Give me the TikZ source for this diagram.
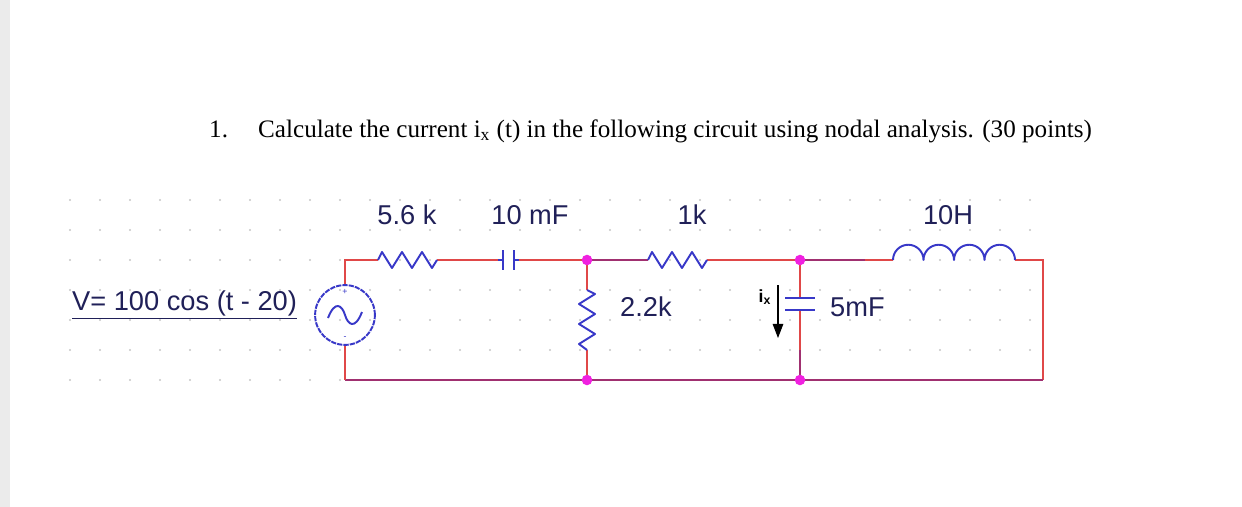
\documentclass[tikz,border=0pt]{standalone}
\usepackage{fontspec}
\setmainfont{Liberation Serif}
\newfontfamily\arial{Liberation Sans}
\usetikzlibrary{arrows.meta}
\definecolor{wr}{HTML}{E04848}
\definecolor{wp}{HTML}{A03070}
\definecolor{cb}{HTML}{3838C8}
\definecolor{lb}{HTML}{202058}
\definecolor{nd}{HTML}{F020E0}
\tikzset{wire/.style={wr,line width=1.1pt},pwire/.style={wp,line width=1.1pt},
comp/.style={cb,line width=1.1pt,line join=round},
lab/.style={lb,font=\arial\fontsize{15.5}{18}\selectfont},
dotn/.style={circle,fill=nd,inner sep=0pt,minimum size=6pt}}
\begin{document}
\begin{tikzpicture}[x=0.02cm,y=-0.02cm]
\useasboundingbox (0,0) rectangle (1242,507);
\fill[white] (0,0) rectangle (1242,507);
\fill[black!8] (0,0) rectangle (10,507);
\foreach \x in {70,100,...,1040} \foreach \y in {200,230,...,380} \fill[black!22] (\x,\y) circle (0.6pt);
\node[anchor=west,font=\fontsize{14.3}{17}\selectfont] (title) at (203,131) {1.\hspace{1.2em}Calculate the current i\textsubscript{x} (t) in the following circuit using nodal analysis. (30 points)};
% coordinates
\coordinate (tl) at (345,260); \coordinate (bl) at (345,380);
\coordinate (n1) at (587,260); \coordinate (n2) at (800,260);
\coordinate (b1) at (587,380); \coordinate (b2) at (800,380);
\coordinate (tr) at (1043,260); \coordinate (br) at (1043,380);
% wires
\draw[wire] (345,285) -- (tl) -- (378,260);
\draw[wire] (437,260) -- (503,260);
\draw[wire] (514,260) -- (n1);
\draw[pwire] (n1) -- (648,260);
\draw[wire] (707,260) -- (n2);
\draw[pwire] (n2) -- (865,260);
\draw[wire] (865,260) -- (893,260);
\draw[wire] (1015,260) -- (tr) -- (br);
\draw[pwire] (bl) -- (b1) -- (b2) -- (br);
\draw[wire] (345,345) -- (bl);
\draw[wire] (n1) -- (587,290); \draw[wire] (587,350) -- (b1);
\draw[wire] (n2) -- (800,298); \draw[wire] (800,310) -- (800,350); \draw[pwire] (800,350)--(b2);
% 5.6k
\draw[comp] (378,260) -- (382,252) -- (392,268) -- (402,252) -- (412,268) -- (422,252) -- (432,268) -- (437,260);
% 10mF
\draw[comp] (503,250) -- (503,270) (514,250) -- (514,270);
\draw[comp] (498,260)--(503,260) (514,260)--(519,260);
% 1k
\draw[comp] (648,260) -- (652,252) -- (662,268) -- (672,252) -- (682,268) -- (692,252) -- (702,268) -- (707,260);
% 2.2k
\draw[comp] (587,290) -- (595,294) -- (579,304) -- (595,314) -- (579,324) -- (595,334) -- (579,344) -- (587,350);
% 5mF
\draw[comp] (785,298) -- (815,298) (785,310) -- (815,310);
% 10H
\draw[comp] (893,260) arc (180:360:15.25) arc (180:360:15.25) arc (180:360:15.25) arc (180:360:15.25);
% source
\node[circle,draw=cb,line width=1.1pt,dash pattern=on 3pt off 0.6pt,minimum size=60pt*0.567] (src) at (345,315) {};
\draw[comp] (328,318) .. controls (335,300) and (342,305) .. (345,315) .. controls (348,325) and (355,330) .. (362,312);
\node[cb,font=\arial\tiny] (plus) at (345,292) {+};
\node[cb,font=\arial\tiny] (minus) at (345,338) {-};
% nodes
\foreach \p in {n1,n2,b1,b2} \node[dotn] at (\p) {};
% labels
\node[lab] (l1) at (407,215) {5.6 k};
\node[lab] (l2) at (530,215) {10 mF};
\node[lab] (l3) at (692,215) {1k};
\node[lab] (l4) at (948,215) {10H};
\node[lab,anchor=west] (l5) at (614,307) {2.2k};
\node[lab,anchor=west] (l6) at (824,307) {5mF};
\node[lab,anchor=west] (vs) at (66,305) {\underline{V= 100 cos (t - 20)}};
\node[font=\arial\bfseries\fontsize{10}{11}\selectfont] (ix) at (765,297) {i\textsubscript{x}};
\coordinate (a1) at (778,285); \coordinate (a2) at (778,338);
\draw[-{Triangle[length=8pt,width=6pt]},line width=0.6pt] (a1) -- (a2);
\end{tikzpicture}
\end{document}
